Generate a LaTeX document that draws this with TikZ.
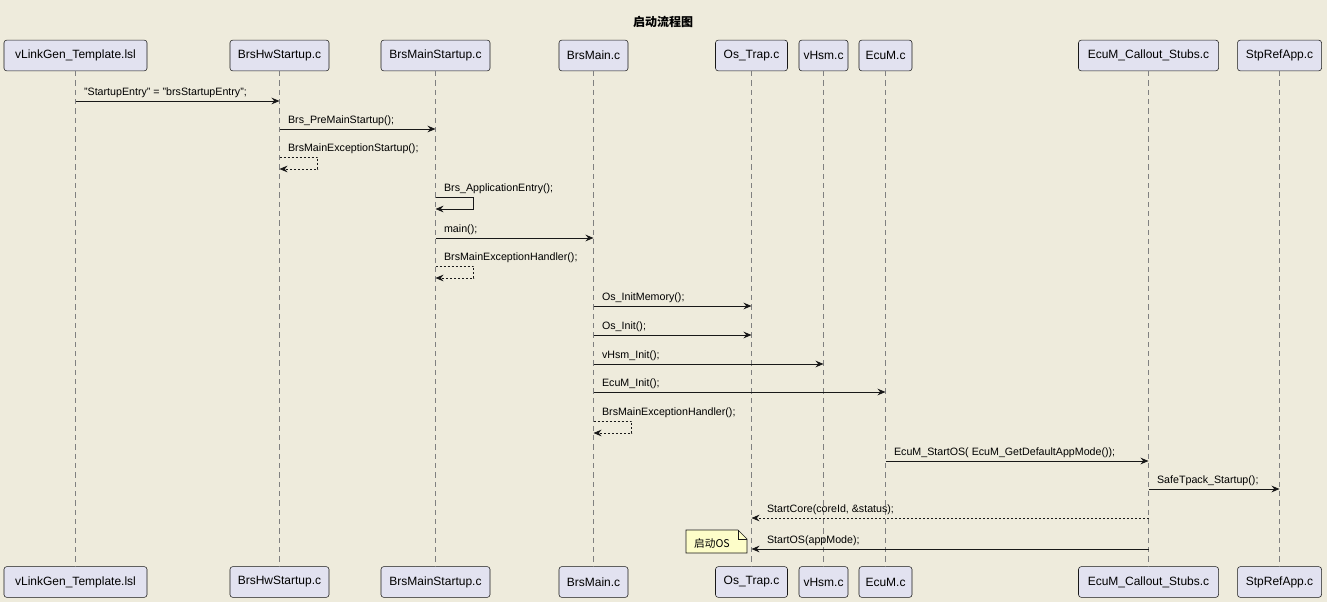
\documentclass[tikz,border=0pt]{standalone}
\usepackage{fontspec}
\setmainfont{Liberation Sans}
\newfontfamily\cjk{Noto Sans CJK SC}
\usetikzlibrary{calc,positioning,arrows.meta,shapes.misc}

\definecolor{bgcol}{HTML}{EEEBDC}
\definecolor{partcol}{HTML}{E2E2F0}
\definecolor{notecol}{HTML}{FBFB77}
\definecolor{linecol}{HTML}{181818}

\tikzset{
  part/.style={draw=linecol, fill=partcol, rounded corners=2pt, inner sep=0pt,
    minimum height=23pt, font=\fontsize{9}{10}\selectfont},
  life/.style={draw=black!50, dash pattern=on 4pt off 3pt, line width=0.5pt},
  msg/.style={draw=linecol, line width=0.7pt, -{Stealth[length=6pt,width=5pt,inset=2pt]}},
  ret/.style={msg, dash pattern=on 1.5pt off 1.5pt},
  lbl/.style={font=\fontsize{8}{9}\selectfont, anchor=south west, inner sep=1pt},
}

% message from lifeline #1 to lifeline #2 at height #3
\newcommand{\sendmsg}[5]{%
  \coordinate (#1-#3) at (#1-top |- 0,#3);
  \coordinate (#2-#3) at (#2-top |- 0,#3);
  \draw[#5] (#1-#3) -- (#2-#3);
  \node[lbl] at ($(#1-#3)!0!(#2-#3)+(\ifdim\pgfkeysvalueof{/pgf/minimum width}>0pt 0\else0\fi,0)$) {};
}

\begin{document}
\begin{tikzpicture}[x=0.75pt, y=-0.75pt]
  \fill[bgcol] (0,0) rectangle (1327,602);
  \useasboundingbox (0,0) rectangle (1327,602);

  \node[font=\bfseries\cjk\fontsize{9}{10}\selectfont] (title) at (663,22) {启动流程图};

  % participants
  \foreach \nm/\x/\w/\txt in {
      vlg/75.5/143/vLinkGen\_Template.lsl,
      hws/279.5/99/BrsHwStartup.c,
      mst/435.5/109/BrsMainStartup.c,
      bm/593.5/69/BrsMain.c,
      trap/751.5/72/Os\_Trap.c,
      hsm/823.5/49/vHsm.c,
      ecum/885.5/53/EcuM.c,
      cos/1148.5/140/EcuM\_Callout\_Stubs.c,
      stp/1279.5/84/StpRefApp.c} {
    \node[part, minimum width=\w*0.75pt] (\nm-top) at (\x,55.5) {\txt};
    \node[part, minimum width=\w*0.75pt] (\nm-bot) at (\x,582) {\txt};
    \draw[life] (\nm-top) -- (\nm-bot);
  }

  % calls
  \foreach \a/\b/\y/\st/\txt in {
      vlg/hws/101/msg/{"StartupEntry" = "brsStartupEntry";},
      hws/mst/129/msg/{Brs\_PreMainStartup();},
      mst/bm/238/msg/{main();},
      bm/trap/306/msg/{Os\_InitMemory();},
      bm/trap/335/msg/{Os\_Init();},
      bm/hsm/364/msg/{vHsm\_Init();},
      bm/ecum/392/msg/{EcuM\_Init();},
      ecum/cos/461/msg/{EcuM\_StartOS( EcuM\_GetDefaultAppMode());},
      cos/stp/489/msg/{SafeTpack\_Startup();}} {
    \coordinate (\a-\y) at (\a-top |- 0,\y);
    \coordinate (\b-\y) at (\b-top |- 0,\y);
    \draw[\st] (\a-\y) -- (\b-\y);
    \node[lbl] at ($(\a-\y)+(7,-2)$) {\txt};
  }

  % self calls
  \foreach \a/\y/\st/\txt in {
      hws/157/ret/{BrsMainExceptionStartup();},
      mst/197/msg/{Brs\_ApplicationEntry();},
      mst/266/ret/{BrsMainExceptionHandler();},
      bm/421/ret/{BrsMainExceptionHandler();}} {
    \coordinate (\a-\y) at (\a-top |- 0,\y);
    \coordinate (\a-\y-end) at ($(\a-\y)+(0,12)$);
    \draw[\st] (\a-\y) -- ++(38,0) -- ++(0,12) -- (\a-\y-end);
    \node[lbl] at ($(\a-\y)+(7,-2)$) {\txt};
  }

  % returns to Os_Trap.c
  \foreach \y/\st/\txt in {
      518/ret/{StartCore(coreId, \&status);},
      549/msg/{StartOS(appMode);}} {
    \coordinate (cos-\y) at (cos-top |- 0,\y);
    \coordinate (trap-\y) at (trap-top |- 0,\y);
    \draw[\st] (cos-\y) -- (trap-\y);
    \node[lbl] at ($(trap-\y)+(14,-2)$) {\txt};
  }

  % note
  \draw[linecol, fill=notecol!40!white, line width=0.5pt]
    (686,530) -- (738,530) -- (747,539) -- (747,553) -- (686,553) -- cycle;
  \draw[linecol, line width=0.5pt] (738,530) -- (738,539) -- (747,539);
  \node[font=\cjk\fontsize{8}{9}\selectfont, inner sep=0pt] (note) at (712,543) {启动OS};
\end{tikzpicture}
\end{document}
